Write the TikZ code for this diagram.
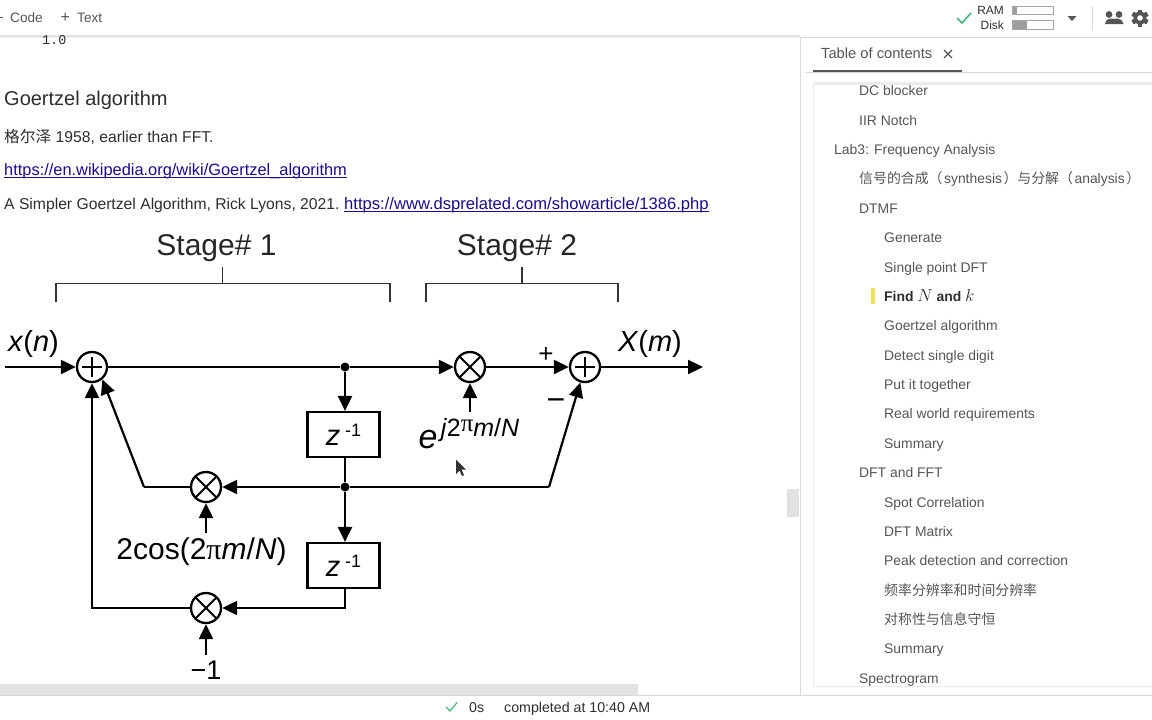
\documentclass[tikz,border=0pt]{standalone}
\usepackage{fontspec}
\setmainfont{Liberation Sans}
\setmonofont{Liberation Mono}
\newfontfamily\cjk{Noto Sans CJK SC}
\newfontfamily\sym{Liberation Serif}
\usepackage{tikz}
\usetikzlibrary{calc}
\usetikzlibrary{arrows.meta}
\definecolor{uitext}{HTML}{555555}
\definecolor{bodytext}{HTML}{2E2E2E}
\definecolor{linktext}{HTML}{1A0D8C}
\definecolor{barfill}{HTML}{E2E2E2}
\definecolor{rulegray}{HTML}{DADADA}
\definecolor{okgreen}{HTML}{45B582}
\definecolor{markyellow}{HTML}{F2DF5C}
\newcommand{\fs}[1]{\fontsize{#1}{#1}\selectfont}
\newcommand{\tocitem}[4]{\node[uilabel,font=\fs{13.9}] (#1) at ( #2 , #3 + 5 ) {#4};}
\newcommand{\cjktxt}[1]{{\cjk #1}}
\newcommand{\linkrule}[1]{\draw[linktext,line width=.9pt] ($(#1.base west)+(0,2)$) -- ($(#1.base east)+(0,2)$);}
\tikzset{
  uilabel/.style={anchor=base west,inner sep=0pt,text=uitext},
  celllabel/.style={anchor=base west,inner sep=0pt,text=bodytext},
  stagelabel/.style={inner sep=0pt,font=\fs{30},text=black!85},
  signal/.style={line width=2.2pt,-{Triangle[length=15pt,width=14pt]}},
  plainwire/.style={line width=2.2pt},
  bracketline/.style={line width=1.6pt,black!80},
  dotnode/.style={circle,fill=black,inner sep=0pt,minimum size=9pt},
  delaybox/.style={draw,line width=2.2pt,minimum width=72pt,minimum height=45pt,inner sep=0pt,font=\fs{29}},
  sumnode/.style={circle,draw,line width=2.3pt,fill=white,minimum size=30pt,inner sep=0pt,
    path picture={\draw[line width=1.8pt]
      ($(path picture bounding box.center)+(-10,0)$) -- ($(path picture bounding box.center)+(10,0)$)
      ($(path picture bounding box.center)+(0,-10)$) -- ($(path picture bounding box.center)+(0,10)$);}},
  mixnode/.style={circle,draw,line width=2.3pt,fill=white,minimum size=30pt,inner sep=0pt,
    path picture={\draw[line width=1.8pt]
      (path picture bounding box.north west) -- (path picture bounding box.south east)
      (path picture bounding box.north east) -- (path picture bounding box.south west);}},
}
\begin{document}
\begin{tikzpicture}[x=1pt,y=-1pt]
\useasboundingbox (0,0) rectangle (1152,720);
\fill[white] (0,0) rectangle (1152,720);
% toolbar
\fill[black!12] (0,35) rectangle (800,36.5);
\fill[black!6] (0,36.5) rectangle (800,38);
\draw[rulegray] (800,37) -- (1152,37);
\draw[uitext,line width=1pt] (0,17) -- (2.5,17);
\node[uilabel,font=\fs{13.6}] (codebtn) at (10,22) {Code};
\node[uilabel,font=\fs{16}] (textplus) at (60.5,22.5) {+};
\node[uilabel,font=\fs{13.6}] (textbtn) at (77,22) {Text};
\draw[okgreen,line width=1.6pt] (957,18) -- (962,23) -- (971,13);
\node[uilabel,anchor=base east,font=\fs{11.9},text=bodytext] (ramlabel) at (1004,14.5) {RAM};
\node[uilabel,anchor=base east,font=\fs{11.9},text=bodytext] (disklabel) at (1004,29) {Disk};
\fill[black!38] (1012,6) rectangle (1017,14);
\draw[black!35,line width=.7pt] (1012,6) rectangle (1053.5,14);
\fill[black!38] (1012,20.5) rectangle (1027,29);
\draw[black!35,line width=.7pt] (1012,20.5) rectangle (1053.5,29);
\fill[uitext] (1067.5,16) -- (1076.5,16) -- (1072,21) -- cycle;
\draw[rulegray] (1092,6) -- (1092,30);
% people icon
\fill[uitext] (1109,14.5) circle (3.4) (1119,14.5) circle (3.4);
\fill[uitext] (1105,24) .. controls (1105,18) and (1113,18) .. (1114,19) .. controls (1115,18) and (1123,18) .. (1123.5,24) -- cycle;
% gear icon
\fill[uitext] (1140,18) circle (6.5);
\foreach \ang in {0,60,...,300}
  \fill[uitext,rotate around={\ang:(1140,18)}] (1137.8,9.5) rectangle (1142.2,26.5);
\fill[white] (1140,18) circle (2.8);
% table of contents header
\draw[rulegray] (805,72) -- (1152,72);
\fill[uitext] (813,70) rectangle (962,72.4);
\node[uilabel,font=\fs{14.7}] (tochead) at (821,58.5) {Table of contents};
\draw[uitext,line width=1.1pt] (944,50) -- (952,58) (952,50) -- (944,58);
\fill[black!8] (813,82) rectangle (1152,84.5);
\draw[black!8] (813.5,82) -- (813.5,686) -- (1152,686);
% notebook cells
\node[celllabel,font=\ttfamily\fs{13.4}] (outvalue) at (42,45) {1.0};
\node[celllabel,font=\fs{20}] (cellhead) at (4,105) {Goertzel algorithm};
\node[celllabel,font=\fs{15.7}] (cellone) at (4,142) {\cjktxt{格尔泽} 1958, earlier than FFT.};
\node[celllabel,font=\fs{16.4},text=linktext] (celltwo) at (4,175) {https://en.wikipedia.org/wiki/Goertzel\_algorithm};
\linkrule{celltwo}
\node[celllabel,font=\fs{15.7}] (cellthree) at (4,209) {A Simpler Goertzel Algorithm, Rick Lyons, 2021.};
\node[celllabel,font=\fs{16.6},text=linktext] (celllink) at (344,209) {https://www.dsprelated.com/showarticle/1386.php};
\linkrule{celllink}
% stage brackets
\node[stagelabel] (stageone) at (216.5,248) {Stage\# 1};
\node[stagelabel] (stagetwo) at (517,248) {Stage\# 2};
\draw[bracketline] (56,302) -- (56,283.5) -- (390,283.5) -- (390,302) (222.5,283.5) -- (222.5,267);
\draw[bracketline] (426,302) -- (426,283.5) -- (618,283.5) -- (618,302) (522,283.5) -- (522,267);
% diagram nodes
\coordinate (inpoint) at (5,367);
\coordinate (outpoint) at (703,367);
\node[sumnode] (sumin) at (92,367) {};
\node[mixnode] (mixtop) at (470,367) {};
\node[sumnode] (sumout) at (585,367) {};
\node[mixnode] (mixcos) at (206,487) {};
\node[mixnode] (mixneg) at (206,608) {};
\node[delaybox] (delayone) at (343.5,434.5) {\raisebox{-2pt}{\textit{z}}\,\raisebox{7pt}{\fs{18}-1}};
\node[delaybox] (delaytwo) at (343.5,565.5) {\raisebox{-2pt}{\textit{z}}\,\raisebox{7pt}{\fs{18}-1}};
\node[dotnode] (jtop) at (345,367) {};
\node[dotnode] (jmid) at (345,487) {};
\coordinate (bendleft) at (144,487);
\coordinate (bendright) at (549,487);
\coordinate (cosfeed) at (206,533);
\coordinate (negfeed) at (206,655);
\coordinate (expfeed) at (470,412);
% diagram labels
\node[inner sep=0pt,font=\fs{29}] (xin) at (33.5,344) {\textit{x}(\textit{n})};
\node[inner sep=0pt,font=\fs{29}] (xout) at (650,343.5) {\textit{X}(\textit{m})};
\node[inner sep=0pt,font=\fs{26}] (plussign) at (546,354.5) {+};
\node[inner sep=0pt,font=\fs{32}] (minussign) at (556,405) {\textminus};
\node[inner sep=0pt,font=\fs{30}] (coslabel) at (201.5,551.5) {2cos(2{\sym π}\textit{m}/\textit{N})};
\node[inner sep=0pt,font=\fs{27}] (neglabel) at (206,670) {\textminus 1};
\node[inner sep=0pt,font=\fs{34}] (explabel) at (428,440) {\textit{e}};
\node[inner sep=0pt,font=\fs{25}] (expupper) at (480,430) {\textit{j}2\raisebox{5pt}{\sym π}\textit{m}/\textit{N}};
% wires
\draw[signal] (inpoint) -- (sumin);
\draw[plainwire] (sumin) -- (jtop);
\draw[signal] (jtop) -- (mixtop);
\draw[signal] (mixtop) -- (sumout);
\draw[signal] (sumout) -- (outpoint);
\draw[signal] (jtop) -- (jtop |- delayone.north);
\draw[plainwire] (jtop |- delayone.south) -- (jmid);
\draw[signal] (jmid) -- (jmid |- delaytwo.north);
\draw[signal] (jmid) -- (mixcos);
\draw[plainwire] (mixcos) -- (bendleft);
\draw[signal] (bendleft) -- (sumin.-50);
\draw[plainwire] (jmid) -- (bendright);
\draw[signal] (bendright) -- (sumout);
\draw[signal] (delaytwo.south -| jmid) |- (mixneg);
\draw[signal] (mixneg) -| (sumin);
\draw[signal] (cosfeed) -- (mixcos);
\draw[signal] (negfeed) -- (mixneg);
\draw[signal] (expfeed) -- (mixtop);
% mouse pointer
\fill[black!80] (456,459.5) -- (456,474) -- (459.5,470.5) -- (462,476) -- (464,475) -- (461.5,469.5) -- (466,469.5) -- cycle;
% scrollbars and status bar
\fill[barfill] (787,489) rectangle (799,517);
\draw[rulegray] (800,37) -- (800,695);
\fill[barfill] (0,684) rectangle (637.5,695);
\draw[rulegray] (0,695.5) -- (1152,695.5);
\draw[okgreen,line width=1.2pt] (446,707) -- (450,711) -- (457,702.5);
\node[uilabel,font=\fs{14.2},text=bodytext] (statustime) at (469,712) {0s};
\node[uilabel,font=\fs{14.2},text=bodytext] (statusdone) at (504,712) {completed at 10:40 AM};
% table of contents entries
\tocitem{tocdc}{859}{90}{DC blocker}
\tocitem{tociir}{859}{120}{IIR Notch}
\tocitem{toclab}{834}{149}{Lab3: Frequency Analysis}
\tocitem{tocsyn}{859}{178}{\cjktxt{信号的合成（}\kern1.5pt synthesis\kern1.5pt\cjktxt{）与分解（}\kern1.5pt analysis\kern1.5pt\cjktxt{）}}
\tocitem{tocdtmf}{859}{208}{DTMF}
\tocitem{tocgen}{884}{237}{Generate}
\tocitem{tocsingle}{884}{267}{Single point DFT}
\fill[markyellow] (871,288) rectangle (874.5,304);
\tocitem{tocfind}{884}{296}{\bfseries\textcolor{bodytext}{Find {\fs{16}$N$} and {\fs{16}$k$}}}
\tocitem{tocgoer}{884}{325}{Goertzel algorithm}
\tocitem{tocdetect}{884}{355}{Detect single digit}
\tocitem{tocput}{884}{384}{Put it together}
\tocitem{tocreal}{884}{413}{Real world requirements}
\tocitem{tocsumone}{884}{443}{Summary}
\tocitem{tocfft}{859}{472}{DFT and FFT}
\tocitem{tocspot}{884}{502}{Spot Correlation}
\tocitem{tocmatrix}{884}{531}{DFT Matrix}
\tocitem{tocpeak}{884}{560}{Peak detection and correction}
\tocitem{tocfreq}{884}{590}{\cjktxt{频率分辨率和时间分辨率}}
\tocitem{tocsym}{884}{619}{\cjktxt{对称性与信息守恒}}
\tocitem{tocsumtwo}{884}{648}{Summary}
\tocitem{tocspec}{859}{678}{Spectrogram}
\end{tikzpicture}
\end{document}
